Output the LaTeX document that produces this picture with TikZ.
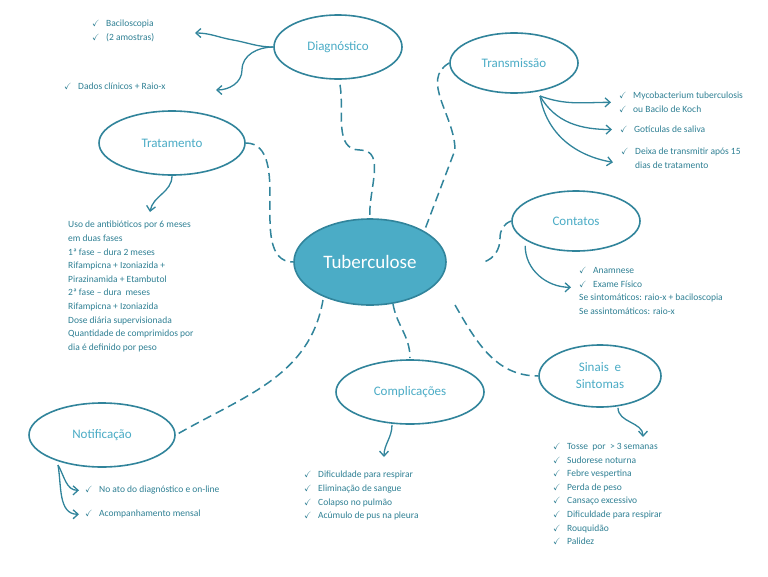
\documentclass[tikz,border=0pt]{standalone}
\usepackage{fontspec}
\setmainfont{Carlito}
\usepackage{amssymb}
\usetikzlibrary{arrows.meta,shapes.geometric}
\definecolor{tl}{HTML}{4BACC6}
\definecolor{dk}{HTML}{31849B}
\definecolor{tx}{HTML}{2E7F93}
\tikzset{
 bub/.style={draw=dk,line width=1.6pt,ellipse,fill=white,text=tl,font=\fontsize{13}{15}\selectfont,inner sep=0pt},
 dsh/.style={draw=dk,line width=1.5pt,dash pattern=on 9pt off 5pt},
 arr/.style={draw=dk,line width=1.3pt,-{Straight Barb[length=5pt,width=9pt]}},
 txt/.style={text=tx,font=\fontsize{9.5}{13.6}\selectfont,align=left,anchor=north west,inner sep=0pt},
}
\newcommand{\ck}{\makebox[14pt][l]{\small$\checkmark$}}
\begin{document}
\begin{tikzpicture}[x=1pt,y=-1pt]
\useasboundingbox (0,0) rectangle (768,576);
\node[bub,fill=tl,text=white,minimum width=152,minimum height=86,font=\fontsize{19}{22}\selectfont] (tb) at (370,262) {Tuberculose};
\node[bub,minimum width=128,minimum height=64] (dg) at (338,47) {Diagnóstico};
\node[bub,minimum width=128,minimum height=60] (tr) at (514,63) {Transmissão};
\node[bub,minimum width=146,minimum height=64] (tt) at (172,143) {Tratamento};
\node[bub,minimum width=128,minimum height=60] (ct) at (576,221) {Contatos};
\node[bub,minimum width=148,minimum height=64] (cp) at (410,392) {Complicações};
\node[bub,minimum width=122,minimum height=62,align=center,font=\fontsize{13}{17}\selectfont] (ss) at (600,376) {Sinais\ \ e\\Sintomas};
\node[bub,minimum width=146,minimum height=64] (nt) at (102,435) {Notificação};
% dashed links
\draw[dsh] (dg.south) ++(2,5) to[out=-80,in=180] (360,150) to[out=0,in=95] (tb.north);
\draw[dsh] (tt.east) to[out=0,in=90] (270,200) to[out=-90,in=180] (tb.west);
\draw[dsh] (tr.west) to[out=-150,in=90] (455,150) -- (tb.north east);
\draw[dsh] (ct.west) to[out=-160,in=90] (500,238) to[out=-90,in=20] (484,262);
\draw[dsh] (323,300) to[out=-100,in=30] (nt.east);
\draw[dsh] (393,304) to[out=-80,in=90] (410,358);
\draw[dsh] (455,305) to[out=-60,in=180] (ss.west);
% text
\node[txt] (t1) at (92,20) {\ck Baciloscopia\\\ck (2 amostras)};
\node[txt] (t2) at (64,83) {\ck Dados clínicos + Raio-x};
\node[txt] (t3) at (68,221) {Uso de antibióticos por 6 meses\\em duas fases\\1ª fase – dura 2 meses\\Rifampicna + Izoniazida +\\Pirazinamida + Etambutol\\2ª fase – dura\ \ meses\\Rifampicna + Izoniazida\\Dose diária supervisionada\\Quantidade de comprimidos por\\dia é definido por peso};
\node[txt] (t4) at (619,92) {\ck Mycobacterium tuberculosis\\\ck ou Bacilo de Koch};
\node[txt] (t5) at (620,126) {\ck Gotículas de saliva};
\node[txt] (t6) at (621,148) {\ck Deixa de transmitir após 15\\\hspace*{14pt}dias de tratamento};
\node[txt] (t7) at (579,267) {\ck Anamnese\\\ck Exame Físico};
\node[txt] (t8) at (579,294) {Se sintomáticos: raio-x + baciloscopia\\Se assintomáticos: raio-x};
\node[txt] (t9) at (304,471) {\ck Dificuldade para respirar\\\ck Eliminação de sangue\\\ck Colapso no pulmão\\\ck Acúmulo de pus na pleura};
\node[txt] (t10) at (553,443) {\ck Tosse\ \ por\ \ > 3 semanas\\\ck Sudorese noturna\\\ck Febre vespertina\\\ck Perda de peso\\\ck Cansaço excessivo\\\ck Dificuldade para respirar\\\ck Rouquidão\\\ck Palidez};
\node[txt] (t11) at (85,486) {\ck No ato do diagnóstico e on-line};
\node[txt] (t12) at (85,510) {\ck Acompanhamento mensal};
\coordinate (a1) at (195,33);
\coordinate (a2) at (216,90);
% arrows
\draw[arr] (dg.west) to[out=180,in=-10] (233,40) to[out=170,in=0] (a1);
\draw[arr] (dg.west) to[out=180,in=90] (242,70) to[out=-90,in=0] (a2);
\draw[arr] (tt.south) to[out=-90,in=80] (150,212);
\draw[arr] (540,96) to[out=-20,in=180] ([xshift=-8pt]t4.west);
\draw[arr] (540,96) to[out=-60,in=180] ([xshift=-8pt]t5.west);
\draw[arr] (540,96) to[out=-80,in=170] ([xshift=-8pt,yshift=-4pt]t6.west);
\draw[arr] (ct.south west) ++(-5,3) to[out=-90,in=180] ([xshift=-8pt]t7.south west);
\draw[arr] (cp.south) ++(-18,0) to[out=-90,in=90] (384,457);
\draw[arr] (ss.south) ++(18,0) to[out=-90,in=90] (643,437);
\draw[arr] (58,465) to[out=-60,in=180] ([xshift=-6pt]t11.west);
\draw[arr] (58,465) to[out=-80,in=180] ([xshift=-6pt]t12.west);
\end{tikzpicture}
\end{document}
